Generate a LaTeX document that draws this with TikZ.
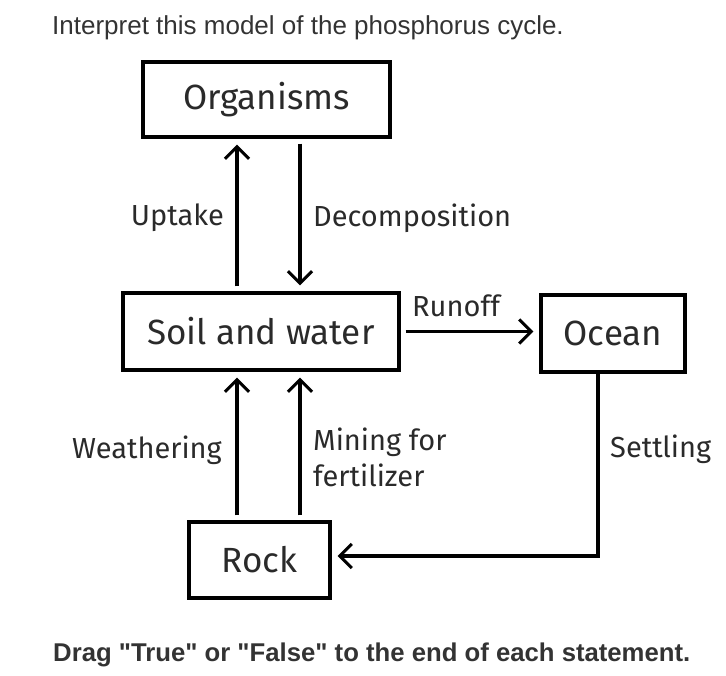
\documentclass[tikz,border=0pt]{standalone}
\usepackage{fontspec}
\setmainfont{Liberation Sans}[Ligatures=TeXOff]
\newfontfamily\hand{Fira Sans}
\usetikzlibrary{arrows.meta}
\definecolor{ink}{HTML}{2A2A2A}
\definecolor{txt}{HTML}{333333}
\begin{document}
\begin{tikzpicture}[x=1pt,y=-1pt,
  box/.style={draw=black,line width=3.4pt,inner sep=0pt,font=\hand\fontsize{35}{40}\selectfont,text=ink},
  arr/.style={line width=3.2pt,-{Straight Barb[length=12pt,width=24pt,line width=3pt]},shorten >=6pt,shorten <=5pt},
  lbl/.style={inner sep=0pt,font=\hand\fontsize{29}{32}\selectfont,text=ink}]
\useasboundingbox (0,0) rectangle (726,676);
\node[anchor=base west,inner sep=0pt,font=\fontsize{26}{30}\selectfont,text=txt] (title) at (52,35) {Interpret this model of the phosphorus cycle.};
\node[box,minimum width=247pt,minimum height=75pt] (org) at (266.5,99.5) {Organisms};
\node[box,minimum width=276pt,minimum height=77pt] (soil) at (261,331.5) {Soil and water};
\node[box,minimum width=144pt,minimum height=77pt] (ocean) at (613,333.5) {Ocean};
\node[box,minimum width=141pt,minimum height=76pt] (rock) at (259.5,560) {Rock};
\coordinate (xa) at (237,0);
\coordinate (xb) at (300,0);
\coordinate (xs) at (598,0);
\draw[arr] (soil.north -| xa) -- (org.south -| xa);
\draw[arr] (org.south -| xb) -- (soil.north -| xb);
\draw[arr] (rock.north -| xa) -- (soil.south -| xa);
\draw[arr] (rock.north -| xb) -- (soil.south -| xb);
\draw[arr] (soil.east) -- (soil.east -| ocean.west);
\draw[arr,shorten <=0pt] (ocean.south -| xs) |- ([yshift=4pt]rock.east);
\node[lbl,anchor=base east] (up) at (224,226) {Uptake};
\node[lbl,anchor=base west] (dec) at (313,227) {Decomposition};
\node[lbl,anchor=base west] (run) at (412,317) {Runoff};
\node[lbl,anchor=base east] (wea) at (222,458) {Weathering};
\node[lbl,anchor=base west] (min) at (313,450) {Mining for};
\node[lbl,anchor=base west] (fer) at (313,486) {fertilizer};
\node[lbl,anchor=base west] (set) at (610,457) {Settling};
\node[anchor=base west,inner sep=0pt,font=\bfseries\fontsize{25.7}{30}\selectfont,text=txt] (drag) at (53,661) {Drag "True" or "False" to the end of each statement.};
\end{tikzpicture}
\end{document}
